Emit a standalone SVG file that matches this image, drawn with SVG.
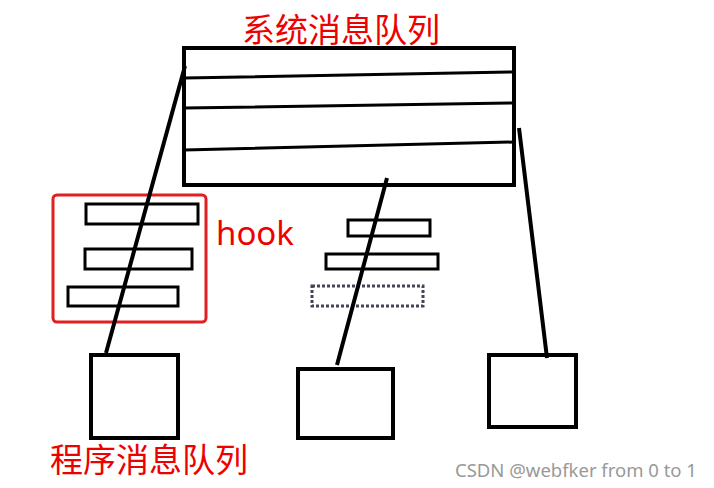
<svg xmlns="http://www.w3.org/2000/svg" width="714" height="488" viewBox="0 0 714 488">
<style>
.b{fill:none;stroke:#000;stroke-width:4}
.s{fill:none;stroke:#000;stroke-width:3}
.r{fill:#e00;font-family:"Noto Sans CJK SC","Liberation Sans",sans-serif;font-size:33px}
</style>
<rect width="714" height="488" fill="#fff"/>
<g id="system-queue">
<rect class="b" x="184" y="48" width="330" height="137"/>
<path class="s" d="M184 78 L514 72 M184 108 L514 103 M184 150 L514 142"/>
<text class="r" x="242" y="42">系统消息队列</text>
</g>
<g id="hook-group">
<rect x="53" y="195" width="153" height="127" rx="4" fill="none" stroke="#e02020" stroke-width="3"/>
<rect class="s" x="86" y="204" width="112" height="20"/>
<rect class="s" x="85" y="249" width="107" height="20"/>
<rect class="s" x="68" y="287" width="110" height="19"/>
<text x="216" y="245" fill="#e00" font-family="Noto Sans,Liberation Sans,sans-serif" font-size="33">hook</text>
</g>
<g id="middle-group">
<rect class="s" x="348" y="220" width="82" height="16"/>
<rect class="s" x="326" y="254" width="112" height="15"/>
<rect x="312" y="286" width="111" height="20" fill="none" stroke="#445" stroke-width="3" stroke-dasharray="3 2"/>
</g>
<g id="program-queue-1"><rect class="b" x="91" y="355" width="87" height="83"/><text class="r" x="50" y="472">程序消息队列</text></g>
<g id="program-queue-2"><rect class="b" x="298" y="369" width="95" height="69"/></g>
<g id="program-queue-3"><rect class="b" x="489" y="355" width="87" height="72"/></g>
<g id="connectors">
<path class="b" d="M185 66 L106 353 M387 178 L337 365 M519 128 L547 358"/>
</g>
<text x="455" y="477" fill="#999" font-family="Noto Sans,Liberation Sans,sans-serif" font-size="18.5">CSDN @webfker from 0 to 1</text>
</svg>
